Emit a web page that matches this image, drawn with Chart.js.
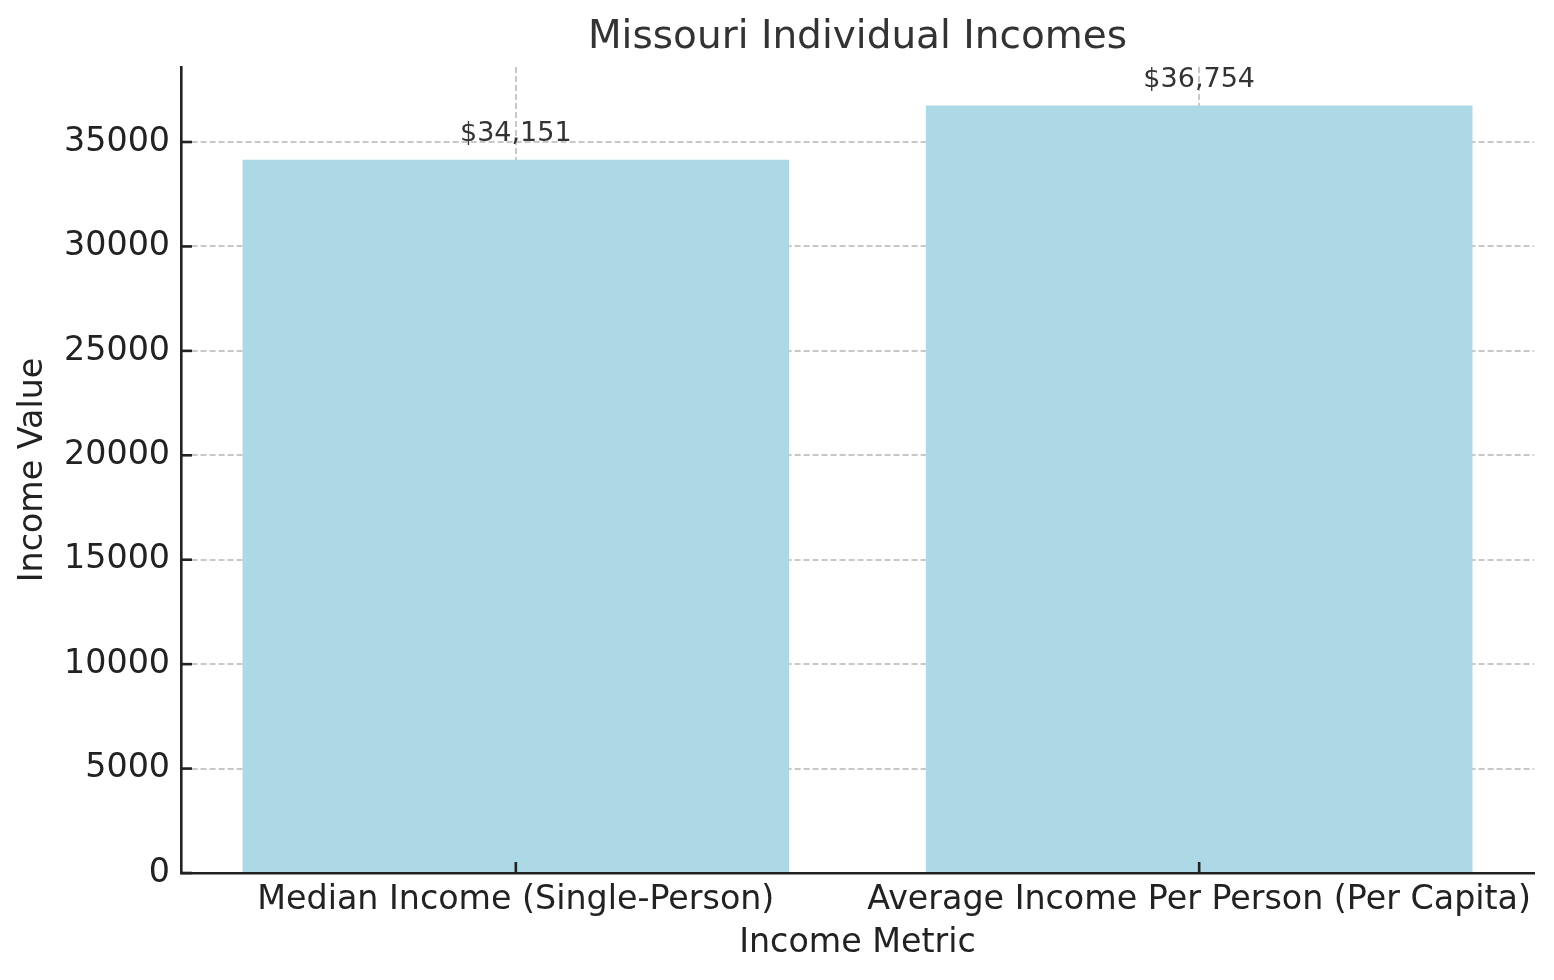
<!DOCTYPE html>
<html>
<head>
<meta charset="utf-8">
<script src="https://cdn.jsdelivr.net/npm/chart.js@4.4.1/dist/chart.umd.min.js"></script>
<style>
  html, body { margin: 0; padding: 0; background: #ffffff; }
  #wrap { width: 1554px; height: 980px; }
  canvas { display: block; }
</style>
</head>
<body>
<div id="wrap"><canvas id="chart" width="1554" height="980"></canvas></div>
<script>
// ---- data ----
const categories = ['Median Income (Single-Person)', 'Average Income Per Person (Per Capita)'];
const incomeValues = [34151, 36754];
const valueLabels = ['$34,151', '$36,754'];
const categoryPositions = [0, 1];
const yTickValues = [0, 5000, 10000, 15000, 20000, 25000, 30000, 35000];
const yMax = 38592;
const titleText = 'Missouri Individual Incomes';
const xTitleText = 'Income Metric';
const yTitleText = 'Income Value';

const FONT = "'DejaVu Sans', 'Liberation Sans', sans-serif";
const gridColor = 'rgba(176,176,176,0.7)';
const axisColor = '#222222';

const points = categoryPositions.map((p, i) => ({ x: p, y: incomeValues[i] }));

// inward tick marks, value labels and axes-centred title
const extrasPlugin = {
  id: 'extras',
  afterDraw(chart) {
    const ctx = chart.ctx;
    const xs = chart.scales.x, ys = chart.scales.y;
    const area = chart.chartArea;
    ctx.save();
    ctx.strokeStyle = axisColor;
    ctx.lineWidth = 2.6;
    ctx.setLineDash([]);
    xs.ticks.forEach(t => {
      const px = xs.getPixelForValue(t.value);
      ctx.beginPath();
      ctx.moveTo(px, area.bottom);
      ctx.lineTo(px, area.bottom - 11);
      ctx.stroke();
    });
    ys.ticks.forEach(t => {
      const py = ys.getPixelForValue(t.value);
      ctx.beginPath();
      ctx.moveTo(area.left, py);
      ctx.lineTo(area.left + 11, py);
      ctx.stroke();
    });
    // value labels
    const meta = chart.getDatasetMeta(0);
    ctx.fillStyle = '#333333';
    ctx.font = '27px ' + FONT;
    ctx.textAlign = 'center';
    ctx.textBaseline = 'middle';
    meta.data.forEach((bar, i) => {
      ctx.fillText(valueLabels[i], bar.x, bar.y - 25.5);
    });
    // title centred over the plot area
    ctx.fillStyle = '#333333';
    ctx.font = '39px ' + FONT;
    ctx.fillText(titleText, (area.left + area.right) / 2, area.top - 29);
    ctx.restore();
  }
};

new Chart(document.getElementById('chart'), {
  type: 'bar',
  data: {
    datasets: [{
      data: points,
      backgroundColor: '#ADD8E6',
      borderWidth: 0,
      barPercentage: 0.8,
      categoryPercentage: 1.0
    }]
  },
  options: {
    responsive: false,
    animation: false,
    devicePixelRatio: 1,
    layout: { padding: { left: 0, right: 20, top: 67, bottom: 0 } },
    plugins: {
      legend: { display: false },
      tooltip: { enabled: false },
      title: { display: false }
    },
    scales: {
      x: {
        type: 'linear',
        min: -0.49,
        max: 1.49,
        offset: false,
        z: 1,
        afterBuildTicks: s => { s.ticks = categoryPositions.map(v => ({ value: v })); },
        afterFit: s => { s.height = 107; },
        ticks: {
          callback: v => (categories[v] !== undefined ? categories[v] : ''),
          color: axisColor,
          font: { family: FONT, size: 33.3 },
          padding: 7.5,
          maxRotation: 0,
          minRotation: 0,
          autoSkip: false,
          includeBounds: false
        },
        grid: { color: gridColor, lineWidth: 2, drawTicks: false, offset: false },
        border: { display: true, color: axisColor, width: 2.6, dash: [6, 3] },
        title: {
          display: true,
          text: xTitleText,
          color: axisColor,
          font: { family: FONT, size: 33.3 },
          padding: { top: 0, bottom: 17 }
        }
      },
      y: {
        min: 0,
        max: yMax,
        z: 1,
        afterBuildTicks: s => { s.ticks = yTickValues.map(v => ({ value: v })); },
        afterFit: s => { s.width = 181; },
        ticks: {
          callback: v => String(v),
          color: axisColor,
          font: { family: FONT, size: 33.3 },
          padding: 11,
          includeBounds: false
        },
        grid: { color: gridColor, lineWidth: 2, drawTicks: false },
        border: { display: true, color: axisColor, width: 2.6, dash: [6, 3] },
        title: {
          display: true,
          text: yTitleText,
          color: axisColor,
          font: { family: FONT, size: 33.3 },
          padding: { top: 13, bottom: 0 }
        }
      }
    }
  },
  plugins: [extrasPlugin]
});
</script>
</body>
</html>
